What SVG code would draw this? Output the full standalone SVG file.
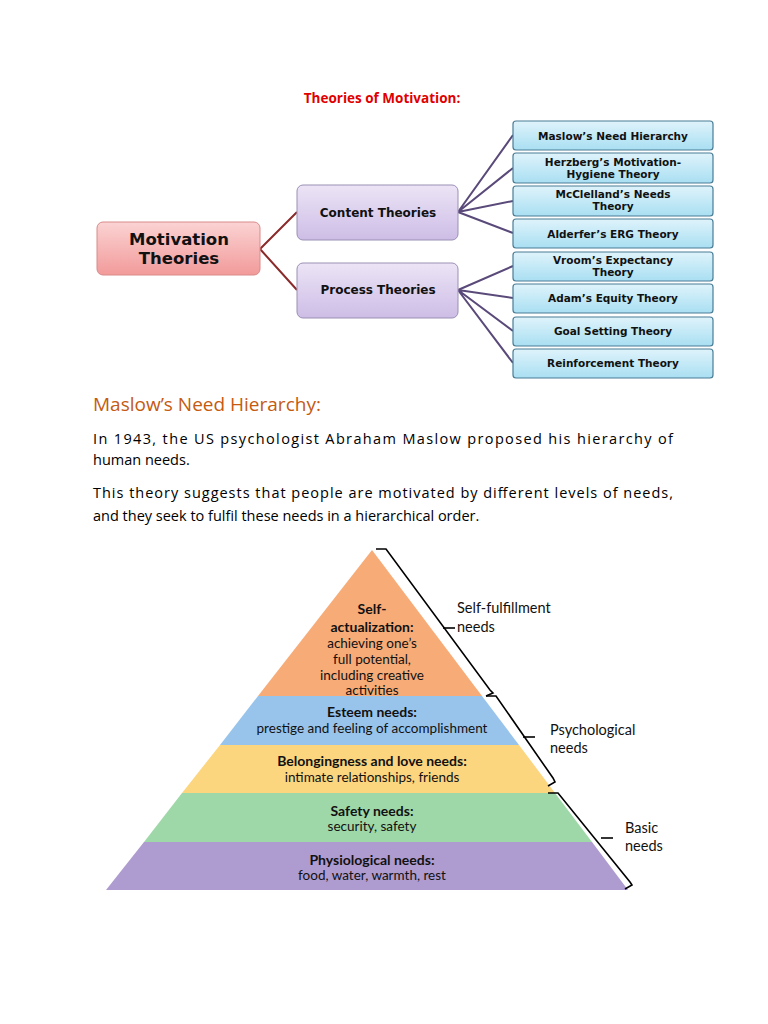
<svg xmlns="http://www.w3.org/2000/svg" width="768" height="1024" viewBox="0 0 768 1024">
<defs>
<linearGradient id="gr" x1="0" y1="0" x2="0" y2="1"><stop offset="0" stop-color="#fbd3d3"/><stop offset="1" stop-color="#f29a9a"/></linearGradient>
<linearGradient id="gp" x1="0" y1="0" x2="0" y2="1"><stop offset="0" stop-color="#ece4f6"/><stop offset="1" stop-color="#cdbde6"/></linearGradient>
<linearGradient id="gb" x1="0" y1="0" x2="0" y2="1"><stop offset="0" stop-color="#dff3fb"/><stop offset="1" stop-color="#a9dff2"/></linearGradient>
</defs>
<style>
.t{font-family:"Open Sans","Liberation Sans",sans-serif;fill:#000}
.b{font-family:"DejaVu Sans","Liberation Sans",sans-serif;font-weight:bold;fill:#111;text-anchor:middle}
.rb{stroke:#4a7d96;stroke-width:1.2;fill:url(#gb)}
.p{font-family:"Lato","Liberation Sans",sans-serif;text-anchor:middle;fill:#111}
.pb{font-weight:bold;font-size:14px}
.ps{font-size:13.5px}
.lbl{font-family:"Lato","Liberation Sans",sans-serif;font-size:14.5px;fill:#111}
.br{fill:none;stroke:#000;stroke-width:1.6}
</style>
<rect width="768" height="1024" fill="#fff"/>
<text x="382" y="103" text-anchor="middle" font-family="Open Sans,Liberation Sans,sans-serif" font-weight="bold" font-size="13.5" fill="#e00000">Theories of Motivation:</text>

<g id="connectors" fill="none">
<path d="M260 249 L297 212 M260 249 L297 290" stroke="#8b2a2a" stroke-width="2"/>
<g stroke="#5a4a7a" stroke-width="2">
<path d="M458 212 L513 135 M458 212 L513 168 M458 212 L513 201 M458 212 L513 233"/>
<path d="M458 290 L513 266 M458 290 L513 298 M458 290 L513 331 M458 290 L513 363"/>
</g>
</g>

<g id="motivation"><rect x="97" y="222" width="163" height="53" rx="6" fill="url(#gr)" stroke="#d98a8a"/><text class="b" x="179" y="245" font-size="16.5">Motivation</text><text class="b" x="179" y="264" font-size="16.5">Theories</text></g>
<g id="content"><rect x="297" y="185" width="161" height="55" rx="6" fill="url(#gp)" stroke="#9b8fb5"/><text class="b" x="378" y="217" font-size="12">Content Theories</text></g>
<g id="process"><rect x="297" y="263" width="161" height="55" rx="6" fill="url(#gp)" stroke="#9b8fb5"/><text class="b" x="378" y="294" font-size="12">Process Theories</text></g>

<g id="maslow"><rect class="rb" x="513" y="121" width="200" height="29" rx="3"/><text class="b" x="613" y="140" font-size="10.5">Maslow’s Need Hierarchy</text></g>
<g id="herzberg"><rect class="rb" x="513" y="153" width="200" height="30" rx="3"/><text class="b" x="613" y="166" font-size="10.5">Herzberg’s Motivation-</text><text class="b" x="613" y="178" font-size="10.5">Hygiene Theory</text></g>
<g id="mcclelland"><rect class="rb" x="513" y="186" width="200" height="30" rx="3"/><text class="b" x="613" y="198" font-size="10.5">McClelland’s Needs</text><text class="b" x="613" y="210" font-size="10.5">Theory</text></g>
<g id="alderfer"><rect class="rb" x="513" y="219" width="200" height="29" rx="3"/><text class="b" x="613" y="238" font-size="10.5">Alderfer’s ERG Theory</text></g>
<g id="vroom"><rect class="rb" x="513" y="252" width="200" height="29" rx="3"/><text class="b" x="613" y="264" font-size="10.5">Vroom’s Expectancy</text><text class="b" x="613" y="276" font-size="10.5">Theory</text></g>
<g id="adam"><rect class="rb" x="513" y="284" width="200" height="29" rx="3"/><text class="b" x="613" y="302" font-size="10.5">Adam’s Equity Theory</text></g>
<g id="goal"><rect class="rb" x="513" y="317" width="200" height="29" rx="3"/><text class="b" x="613" y="335" font-size="10.5">Goal Setting Theory</text></g>
<g id="reinforcement"><rect class="rb" x="513" y="349" width="200" height="29" rx="3"/><text class="b" x="613" y="367" font-size="10.5">Reinforcement Theory</text></g>

<text x="93" y="411" font-family="Open Sans,Liberation Sans,sans-serif" font-size="19" fill="#c55a11">Maslow’s Need Hierarchy:</text>
<text class="t" x="93" y="444" font-size="14.5" textLength="580" lengthAdjust="spacing">In 1943, the US psychologist Abraham Maslow proposed his hierarchy of</text>
<text class="t" x="93" y="465" font-size="14.5">human needs.</text>
<text class="t" x="93" y="498" font-size="14.5" textLength="580" lengthAdjust="spacing">This theory suggests that people are motivated by different levels of needs,</text>
<text class="t" x="93" y="521" font-size="14.5">and they seek to fulfil these needs in a hierarchical order.</text>

<g id="pyramid">
<polygon points="372,550 258,696 482,696" fill="#f7ab77"/>
<polygon points="258,696 482,696 519,745 220,745" fill="#98c4ec"/>
<polygon points="220,745 519,745 555,793 182,793" fill="#fcd57f"/>
<polygon points="182,793 555,793 592,842 144,842" fill="#9fd8a8"/>
<polygon points="144,842 592,842 628,890 106,890" fill="#ae9bcf"/>
<text class="p pb" x="372" y="614">Self-</text>
<text class="p pb" x="372" y="632">actualization:</text>
<text class="p ps" x="372" y="648">achieving one’s</text>
<text class="p ps" x="372" y="664">full potential,</text>
<text class="p ps" x="372" y="680">including creative</text>
<text class="p ps" x="372" y="695" font-size="13">activities</text>
<text class="p pb" x="372" y="717">Esteem needs:</text>
<text class="p ps" x="372" y="733">prestige and feeling of accomplishment</text>
<text class="p pb" x="372" y="766">Belongingness and love needs:</text>
<text class="p ps" x="372" y="782">intimate relationships, friends</text>
<text class="p pb" x="372" y="816">Safety needs:</text>
<text class="p ps" x="372" y="831">security, safety</text>
<text class="p pb" x="372" y="865">Physiological needs:</text>
<text class="p ps" x="372" y="880">food, water, warmth, rest</text>
</g>
<g id="brackets">
<polyline class="br" points="376,549 386,549 490,690 493,693 486,696"/>
<line class="br" x1="443" y1="628" x2="455" y2="628"/>
<polyline class="br" points="486,696 496,696 553,778 555,782 548,786"/>
<line class="br" x1="523" y1="737" x2="535" y2="737"/>
<polyline class="br" points="548,793 558,793 630,882 632,885 625,889"/>
<line class="br" x1="601" y1="838" x2="613" y2="838"/>
<text class="lbl" x="457" y="613">Self-fulfillment</text>
<text class="lbl" x="457" y="632">needs</text>
<text class="lbl" x="550" y="735">Psychological</text>
<text class="lbl" x="550" y="753">needs</text>
<text class="lbl" x="625" y="833">Basic</text>
<text class="lbl" x="625" y="851">needs</text>
</g>
</svg>
